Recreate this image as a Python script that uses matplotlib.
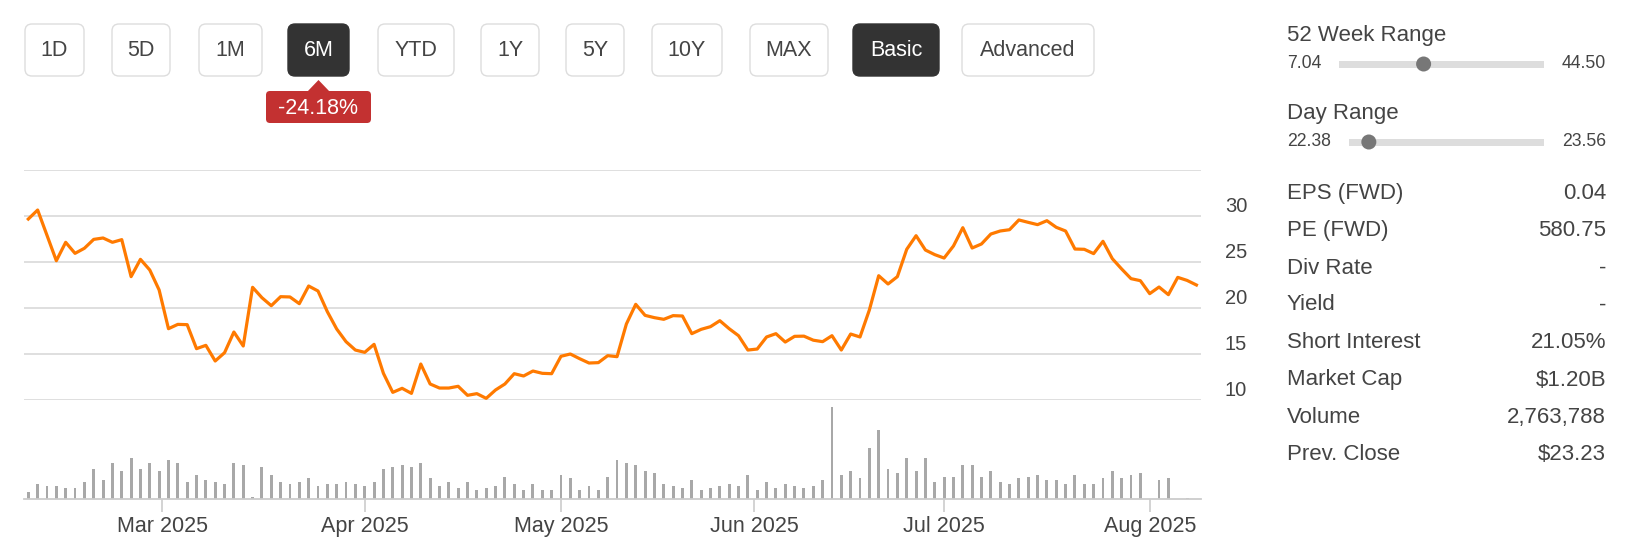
import numpy as np
import pandas as pd
import matplotlib
matplotlib.use("Agg")
import matplotlib.pyplot as plt
from matplotlib.patches import FancyBboxPatch, Polygon, Circle, Rectangle

# ---------------- data ----------------
start_date = "2025-02-07"
end_date = "2025-08-08"
holidays = ["2025-02-17", "2025-04-18", "2025-05-26", "2025-06-19", "2025-07-04"]

prices = [
    29.67, 30.65, 27.90, 25.14, 27.14, 25.94, 26.49, 27.46, 27.61, 27.14,
    27.43, 23.41, 25.29, 24.13, 21.96, 17.75, 18.22, 18.19, 15.58, 15.94,
    14.24, 15.14, 17.39, 15.87, 22.25, 21.12, 20.25, 21.23, 21.20, 20.47,
    22.39, 21.85, 19.60, 17.72, 16.34, 15.43, 15.18, 16.05, 12.90, 10.83,
    11.27, 10.72, 13.91, 11.74, 11.30, 11.30, 11.49, 10.51, 10.69, 10.18,
    11.09, 11.74, 12.86, 12.61, 13.15, 12.90, 12.86, 14.75, 15.00, 14.49,
    14.02, 14.06, 14.82, 14.71, 18.26, 20.40, 19.20, 18.95, 18.77, 19.17,
    19.13, 17.21, 17.68, 17.97, 18.62, 17.75, 16.99, 15.43, 15.54, 16.85,
    17.21, 16.30, 16.92, 16.94, 16.50, 16.34, 16.99, 15.43, 17.17, 16.85,
    19.78, 23.51, 22.61, 23.41, 26.38, 27.86, 26.30, 25.80, 25.43, 26.74,
    28.73, 26.52, 26.96, 28.04, 28.37, 28.51, 29.57, 29.31, 29.06, 29.49,
    28.77, 28.37, 26.41, 26.38, 25.91, 27.25, 25.36, 24.24, 23.19, 22.97,
    21.56, 22.28, 21.45, 23.33, 23.00, 22.50,
]

volumes_m = [
    1.10, 2.20, 1.95, 1.95, 1.65, 1.65, 2.50, 4.50, 2.80, 5.35,
    4.20, 6.15, 4.50, 5.35, 4.20, 5.90, 5.35, 2.50, 3.65, 2.80,
    2.50, 2.20, 5.35, 5.05, 0.25, 4.75, 3.65, 2.50, 2.20, 2.50,
    3.10, 1.95, 2.20, 2.20, 2.50, 2.20, 1.95, 2.50, 4.50, 4.75,
    5.05, 4.75, 5.35, 3.10, 1.95, 2.50, 1.65, 2.50, 1.40, 1.65,
    1.95, 3.35, 2.20, 1.40, 2.20, 1.40, 1.40, 3.65, 3.10, 1.40,
    1.95, 1.40, 3.35, 5.90, 5.35, 5.05, 4.20, 3.95, 2.20, 1.95,
    1.65, 2.80, 1.40, 1.65, 1.95, 2.20, 1.95, 3.65, 1.40, 2.50,
    1.65, 2.20, 1.95, 1.65, 1.95, 2.80, 13.80, 3.65, 4.20, 3.10,
    7.60, 10.40, 4.50, 3.95, 6.15, 4.20, 6.15, 2.50, 3.35, 3.35,
    5.05, 5.05, 3.35, 4.20, 2.50, 2.20, 3.10, 3.35, 3.65, 2.80,
    2.80, 2.20, 3.65, 2.20, 2.20, 3.10, 4.20, 3.10, 3.65, 3.95,
    0.00, 2.80, 3.10, 0.00, 0.20, 0.00,
]

month_starts = ["2025-03-01", "2025-04-01", "2025-05-01", "2025-06-01", "2025-07-01", "2025-08-01"]
month_labels = ["Mar 2025", "Apr 2025", "May 2025", "Jun 2025", "Jul 2025", "Aug 2025"]
price_ticks = [10, 15, 20, 25, 30]
grid_levels = [10, 15, 20, 25, 30, 35]

range_buttons = ["1D", "5D", "1M", "6M", "YTD", "1Y", "5Y", "10Y", "MAX"]
active_range = "6M"
mode_buttons = ["Basic", "Advanced"]
active_mode = "Basic"
change_label = "-24.18%"

week52_low, week52_high, week52_now = 7.04, 44.50, 22.50
day_low, day_high, day_now = 22.38, 23.56, 22.50

stat_names = ["EPS (FWD)", "PE (FWD)", "Div Rate", "Yield", "Short Interest",
              "Market Cap", "Volume", "Prev. Close"]
stat_values = ["0.04", "580.75", "-", "-", "21.05%", "$1.20B", "2,763,788", "$23.23"]

# ---------------- figure ----------------
W, H = 1640, 546
fig = plt.figure(figsize=(W / 100, H / 100), dpi=100)
fig.patch.set_facecolor("white")

LINE = "#ff7a00"
GRID = "#dcdcdc"
TXT = "#444444"
NARROW = ["Liberation Sans Narrow", "Liberation Sans", "DejaVu Sans"]
SANS = ["Liberation Sans", "DejaVu Sans"]

dates = pd.bdate_range(start_date, end_date, freq="C", holidays=holidays)
idx = np.arange(len(dates))
date_num = dates.values.astype("int64")
tick_pos = np.interp(pd.to_datetime(month_starts).values.astype("int64"), date_num, idx)

def fig_rect(x0, y0, x1, y1):
    return [x0 / W, 1 - y1 / H, (x1 - x0) / W, (y1 - y0) / H]

x_left, x_right = 24, 1201
first_px, step_px = 28.3, 9.345
xl = (x_left - first_px) / step_px
xr = (x_right - first_px) / step_px

# price axes
axp = fig.add_axes(fig_rect(x_left, 170, x_right, 400))
axp.set_xlim(xl, xr)
axp.set_ylim(10, 35)
for g in grid_levels:
    axp.axhline(g, color=GRID, lw=1.3, zorder=1)
axp.plot(idx, prices, color=LINE, lw=2.3, solid_joinstyle="round", zorder=3)
axp.set_xticks([])
axp.set_yticks([])
for s in axp.spines.values():
    s.set_visible(False)
axp.patch.set_alpha(0)
for v in price_ticks:
    axp.annotate(str(v), xy=(1, v), xycoords=("axes fraction", "data"),
                 xytext=(24, 10), textcoords="offset pixels",
                 ha="left", va="center", fontsize=14.5, color=TXT,
                 family=NARROW, annotation_clip=False)

# volume axes
axv = fig.add_axes(fig_rect(x_left, 400, x_right, 499))
axv.set_xlim(xl, xr)
axv.set_ylim(0, 14.85)
axv.bar(idx, volumes_m, width=0.31, color="#a8a8a8", zorder=2)
for s in ["top", "left", "right"]:
    axv.spines[s].set_visible(False)
axv.spines["bottom"].set_color("#cccccc")
axv.spines["bottom"].set_linewidth(1.3)
axv.set_yticks([])
axv.set_xticks(tick_pos)
axv.set_xticklabels(month_labels, fontsize=15.5, color=TXT, family=NARROW)
axv.tick_params(axis="x", length=9, width=1.2, color="#cccccc", pad=3)
axv.patch.set_alpha(0)

# UI overlay (pixel coordinates)
ui = fig.add_axes([0, 0, 1, 1], zorder=-1)
ui.set_xlim(0, W)
ui.set_ylim(H, 0)
ui.axis("off")

def button(x0, x1, label, active):
    y0, y1 = 24, 76
    face = "#333333" if active else "white"
    edge = "#333333" if active else "#dddddd"
    ui.add_patch(FancyBboxPatch((x0, y0), x1 - x0, y1 - y0,
                                boxstyle="round,pad=0,rounding_size=7",
                                facecolor=face, edgecolor=edge, lw=1.0))
    ui.text((x0 + x1) / 2, (y0 + y1) / 2 + 1, label, ha="center", va="center",
            fontsize=15.5, color="white" if active else TXT, family=SANS)

range_x = [(25, 84), (112, 170), (199, 262), (288, 349), (378, 454),
           (481, 539), (566, 624), (652, 722), (750, 828)]
for (x0, x1), lab in zip(range_x, range_buttons):
    button(x0, x1, lab, lab == active_range)
mode_x = [(853, 939), (962, 1094)]
for (x0, x1), lab in zip(mode_x, mode_buttons):
    button(x0, x1, lab, lab == active_mode)

# change tooltip
RED = "#c33131"
ui.add_patch(FancyBboxPatch((266, 91), 105, 32, boxstyle="round,pad=0,rounding_size=4",
                            facecolor=RED, edgecolor=RED, lw=0))
ui.add_patch(Polygon([(307, 92), (318.5, 80), (330, 92)], closed=True,
                     facecolor=RED, edgecolor=RED, lw=0))
ui.text(318.5, 108, change_label, ha="center", va="center", fontsize=15.5,
        color="white", family=SANS)

# right panel
LX, RX = 1287, 1606
ui.text(LX, 35, "52 Week Range", ha="left", va="center", fontsize=16, color=TXT, family=SANS)
ui.text(LX, 64, f"{week52_low:.2f}", ha="left", va="center", fontsize=12.7, color=TXT, family=SANS)
ui.text(RX, 64, f"{week52_high:.2f}", ha="right", va="center", fontsize=12.7, color=TXT, family=SANS)
ui.text(LX, 114, "Day Range", ha="left", va="center", fontsize=16, color=TXT, family=SANS)
ui.text(LX, 142, f"{day_low:.2f}", ha="left", va="center", fontsize=12.7, color=TXT, family=SANS)
ui.text(RX, 142, f"{day_high:.2f}", ha="right", va="center", fontsize=12.7, color=TXT, family=SANS)

def slider(x0, x1, y, lo, hi, val):
    ui.add_patch(Rectangle((x0, y - 3.5), x1 - x0, 7, facecolor="#dddddd", edgecolor="none"))
    frac = (val - lo) / (hi - lo)
    cx = x0 + frac * (x1 - x0)
    ui.add_patch(Circle((max(cx, x0 + 8), y), 7.5, facecolor="#777777", edgecolor="none"))

slider(1339, 1544, 64, week52_low, week52_high, week52_now)
slider(1349, 1544, 142, day_low, day_high, day_now)

row_y = [193.5, 230.5, 268, 305, 342.5, 380, 417.5, 455]
for y, n, v in zip(row_y, stat_names, stat_values):
    ui.text(LX, y, n, ha="left", va="center", fontsize=16, color=TXT, family=SANS)
    ui.text(RX, y, v, ha="right", va="center", fontsize=16, color=TXT, family=SANS)

fig.savefig("out.png", dpi=100, facecolor="white")
